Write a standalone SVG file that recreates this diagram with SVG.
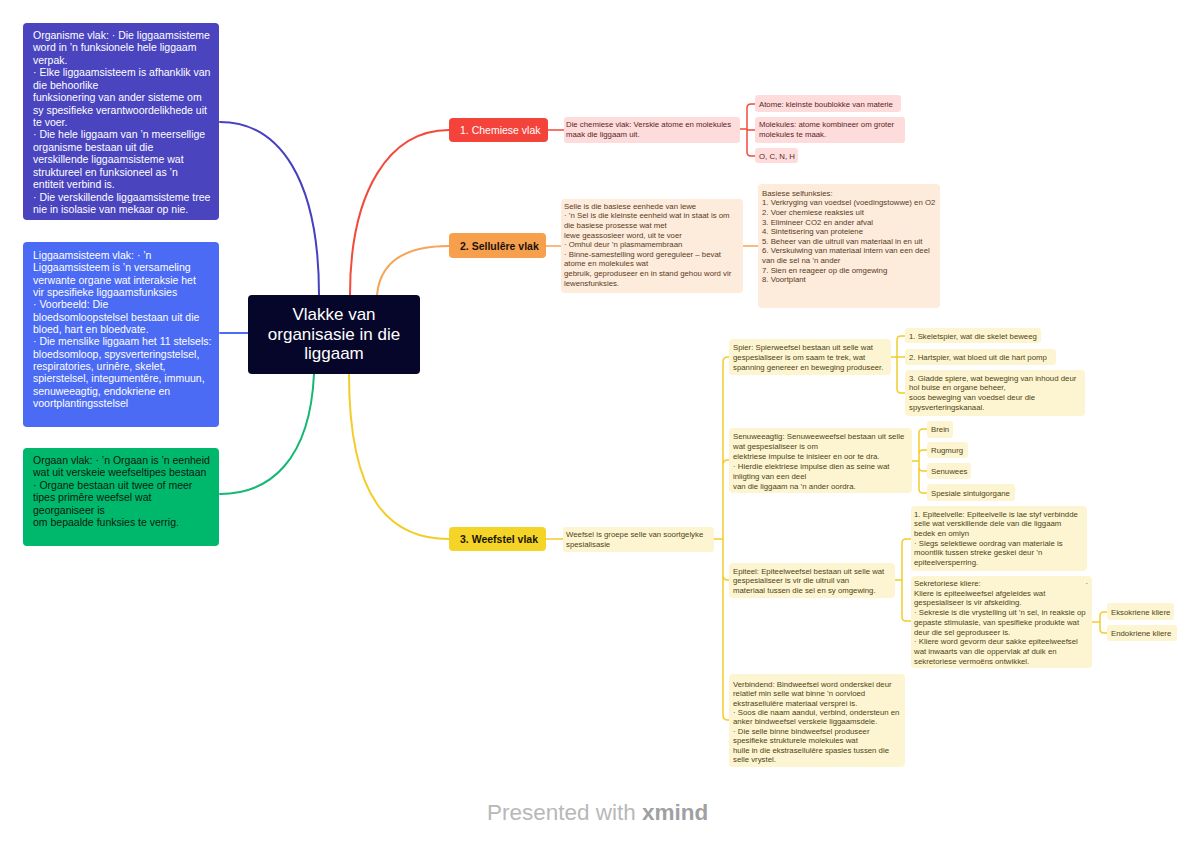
<svg xmlns="http://www.w3.org/2000/svg" width="1200" height="849" viewBox="0 0 1200 849">
<style>
text{font-family:"Liberation Sans",Arial,sans-serif}
.w{font-size:10.5px;fill:#ffffff}
.s{font-size:7.8px}
.tp{font-size:10.5px}
.r{fill:#5a1f1f}.o{fill:#5b3b21}.y{fill:#4d4412}
.rb{fill:#fedcdc}.ob{fill:#fdebdc}.yb{fill:#fdf5d2}
#connectors path{fill:none;stroke-linecap:round}
.cr{stroke:#f24a3c}.co{stroke:#f6a459}.cy{stroke:#f2cd2a}
.m{stroke-width:2}.n{stroke-width:1.5}
</style>
<rect width="1200" height="849" fill="#ffffff"/>
<g id="connectors">
<path class="m" stroke="#4641c0" d="M319,295 C319,180 280,122 220,122"/>
<path class="m" stroke="#4a6cf7" d="M248,333 H220"/>
<path class="m" stroke="#14b872" d="M314,374 C310,460 270,494 220,494"/>
<path class="m cr" d="M350,295 C350,190 390,130 449,130"/>
<path class="m co" d="M377,295 C380,262 405,246 449,246"/>
<path class="m cy" d="M349,374 C349,500 390,539 449,539"/>
<path class="n cr" d="M548,130 H564 M740,129 H747 M747,129 V108 Q747,104 751,104 H755 M747,129 V130 H755 M747,129 V152 Q747,156 751,156 H755"/>
<path class="n co" d="M546,246 H561 M743,246 H758"/>
<path class="n cy" d="M546,539 H563 M714,539 H723 M723,539 V362 Q723,357 728,357 H729 M723,539 V465 Q723,460 728,460 H729 M723,539 V575 Q723,580 728,580 H729 M723,539 V715 Q723,720 728,720 H729"/>
<path class="n cy" d="M891,357 H897 M897,357 V340 Q897,336 901,336 H905 M897,357 H905 M897,357 V389 Q897,393 901,393 H905"/>
<path class="n cy" d="M912,461 H919 M919,461 V433 Q919,429 923,429 H927 M919,461 V454 Q919,450 923,450 H927 M919,461 V467 Q919,471 923,471 H927 M919,461 V489 Q919,493 923,493 H927"/>
<path class="n cy" d="M895,580 H902 M902,580 V543 Q902,539 906,539 H911 M902,580 V617 Q902,621 906,621 H911"/>
<path class="n cy" d="M1092,622 H1100 M1100,622 V616 Q1100,612 1104,612 H1107 M1100,622 V629 Q1100,633 1104,633 H1107"/>
</g>
<g id="central">
<rect x="248" y="295" width="172" height="79" rx="4" fill="#06062a"/>
<text x="334" y="320" font-size="17" fill="#ffffff" text-anchor="middle"><tspan x="334" y="320">Vlakke van</tspan><tspan x="334" y="339.5">organisasie in die</tspan><tspan x="334" y="359">liggaam</tspan></text>
</g>
<g id="organisme">
<rect x="23" y="23" width="196" height="197" rx="4" fill="#4a45bf"/>
<text class="w" x="33" y="39"><tspan x="33" y="39">Organisme vlak: · Die liggaamsisteme</tspan><tspan x="33" dy="12.43">word in ’n funksionele hele liggaam</tspan><tspan x="33" dy="12.43">verpak.</tspan><tspan x="33" dy="12.43">· Elke liggaamsisteem is afhanklik van</tspan><tspan x="33" dy="12.43">die behoorlike</tspan><tspan x="33" dy="12.43">funksionering van ander sisteme om</tspan><tspan x="33" dy="12.43">sy spesifieke verantwoordelikhede uit</tspan><tspan x="33" dy="12.43">te voer.</tspan><tspan x="33" dy="12.43">· Die hele liggaam van ’n meersellige</tspan><tspan x="33" dy="12.43">organisme bestaan uit die</tspan><tspan x="33" dy="12.43">verskillende liggaamsisteme wat</tspan><tspan x="33" dy="12.43">struktureel en funksioneel as ’n</tspan><tspan x="33" dy="12.43">entiteit verbind is.</tspan><tspan x="33" dy="12.43">· Die verskillende liggaamsisteme tree</tspan><tspan x="33" dy="12.43">nie in isolasie van mekaar op nie.</tspan></text>
</g>
<g id="liggaamsisteem">
<rect x="23" y="242" width="196" height="185" rx="4" fill="#4b6bf5"/>
<text class="w" x="33" y="259"><tspan x="33" y="259">Liggaamsisteem vlak: · ’n</tspan><tspan x="33" dy="12.33">Liggaamsisteem is ’n versameling</tspan><tspan x="33" dy="12.33">verwante organe wat interaksie het</tspan><tspan x="33" dy="12.33">vir spesifieke liggaamsfunksies</tspan><tspan x="33" dy="12.33">· Voorbeeld: Die</tspan><tspan x="33" dy="12.33">bloedsomloopstelsel bestaan uit die</tspan><tspan x="33" dy="12.33">bloed, hart en bloedvate.</tspan><tspan x="33" dy="12.33">· Die menslike liggaam het 11 stelsels:</tspan><tspan x="33" dy="12.33">bloedsomloop, spysverteringstelsel,</tspan><tspan x="33" dy="12.33">respiratories, urinêre, skelet,</tspan><tspan x="33" dy="12.33">spierstelsel, integumentêre, immuun,</tspan><tspan x="33" dy="12.33">senuweeagtig, endokriene en</tspan><tspan x="33" dy="12.33">voortplantingsstelsel</tspan></text>
</g>
<g id="orgaan">
<rect x="23" y="448" width="196" height="98" rx="4" fill="#00b86b"/>
<text class="w" x="33" y="464" style="fill:#0a1a10"><tspan x="33" y="464">Orgaan vlak: · ’n Orgaan is ’n eenheid</tspan><tspan x="33" dy="12.4">wat uit verskeie weefseltipes bestaan</tspan><tspan x="33" dy="12.4">· Organe bestaan uit twee of meer</tspan><tspan x="33" dy="12.4">tipes primêre weefsel wat</tspan><tspan x="33" dy="12.4">georganiseer is</tspan><tspan x="33" dy="12.4">om bepaalde funksies te verrig.</tspan></text>
</g>
<g id="chemiese">
<rect x="449" y="118" width="99" height="24" rx="4" fill="#f4433b"/>
<text class="tp" x="460" y="133.5" fill="#ffffff">1. Chemiese vlak</text>
</g>
<g id="chemiese-sub">
<rect class="rb" x="564" y="117" width="176" height="26" rx="3"/>
<text class="s r" x="566" y="126.8"><tspan x="566" y="126.8">Die chemiese vlak: Verskie atome en molekules</tspan><tspan x="566" dy="10">maak die liggaam uit.</tspan></text>
</g>
<g id="atome">
<rect class="rb" x="755" y="95" width="146" height="17" rx="3"/>
<text class="s r" x="759" y="106.8">Atome: kleinste boublokke van materie</text>
</g>
<g id="molekules">
<rect class="rb" x="755" y="117" width="150" height="26" rx="3"/>
<text class="s r" x="759" y="126.8"><tspan x="759" y="126.8">Molekules: atome kombineer om groter</tspan><tspan x="759" dy="10">molekules te maak.</tspan></text>
</g>
<g id="ocnh">
<rect class="rb" x="755" y="148" width="43" height="15" rx="3"/>
<text class="s r" x="759" y="158.8">O, C, N, H</text>
</g>
<g id="sellulere">
<rect x="449" y="233" width="97" height="25" rx="4" fill="#f6a04d"/>
<text class="tp" x="460" y="249.5" fill="#1a1208" font-weight="bold">2. Sellulêre vlak</text>
</g>
<g id="sellulere-sub">
<rect class="ob" x="561" y="199" width="182" height="94" rx="4"/>
<text class="s o" x="564" y="208.8"><tspan x="564" y="208.8">Selle is die basiese eenhede van lewe</tspan><tspan x="564" dy="9.6">· ’n Sel is die kleinste eenheid wat in staat is om</tspan><tspan x="564" dy="9.6">die basiese prosesse wat met</tspan><tspan x="564" dy="9.6">lewe geassosieer word, uit te voer</tspan><tspan x="564" dy="9.6">· Omhul deur ’n plasmamembraan</tspan><tspan x="564" dy="9.6">· Binne-samestelling word gereguleer – bevat</tspan><tspan x="564" dy="9.6">atome en molekules wat</tspan><tspan x="564" dy="9.6">gebruik, geproduseer en in stand gehou word vir</tspan><tspan x="564" dy="9.6">lewensfunksies.</tspan></text>
</g>
<g id="selfunksies">
<rect class="ob" x="758" y="184" width="182" height="124" rx="4"/>
<text class="s o" x="762" y="195.8"><tspan x="762" y="195.8">Basiese selfunksies:</tspan><tspan x="762" dy="9.6">1. Verkryging van voedsel (voedingstowwe) en O2</tspan><tspan x="762" dy="9.6">2. Voer chemiese reaksies uit</tspan><tspan x="762" dy="9.6">3. Elimineer CO2 en ander afval</tspan><tspan x="762" dy="9.6">4. Sintetisering van proteiene</tspan><tspan x="762" dy="9.6">5. Beheer van die uitruil van materiaal in en uit</tspan><tspan x="762" dy="9.6">6. Verskuiwing van materiaal intern van een deel</tspan><tspan x="762" dy="9.6">van die sel na ’n ander</tspan><tspan x="762" dy="9.6">7. Sien en reageer op die omgewing</tspan><tspan x="762" dy="9.6">8. Voortplant</tspan></text>
</g>
<g id="weefstel">
<rect x="449" y="527" width="97" height="24" rx="4" fill="#f4d427"/>
<text class="tp" x="460" y="542.5" fill="#1a1605" font-weight="bold">3. Weefstel vlak</text>
</g>
<g id="weefsel">
<rect class="yb" x="563" y="527" width="151" height="25" rx="3"/>
<text class="s y" x="566" y="537.3"><tspan x="566" y="537.3">Weefsel is groepe selle van soortgelyke</tspan><tspan x="566" dy="10">spesialisasie</tspan></text>
</g>
<g id="spier">
<rect class="yb" x="729" y="339" width="162" height="36" rx="4"/>
<text class="s y" x="733" y="349.8"><tspan x="733" y="349.8">Spier: Spierweefsel bestaan uit selle wat</tspan><tspan x="733" dy="10">gespesialiseer is om saam te trek, wat</tspan><tspan x="733" dy="10">spanning genereer en beweging produseer.</tspan></text>
</g>
<g id="skeletspier">
<rect class="yb" x="905" y="328" width="136" height="15" rx="3"/>
<text class="s y" x="909" y="338.8">1. Skeletspier, wat die skelet beweeg</text>
</g>
<g id="hartspier">
<rect class="yb" x="905" y="349" width="151" height="16" rx="3"/>
<text class="s y" x="909" y="359.8">2. Hartspier, wat bloed uit die hart pomp</text>
</g>
<g id="gladde">
<rect class="yb" x="905" y="370" width="180" height="46" rx="4"/>
<text class="s y" x="909" y="380.8"><tspan x="909" y="380.8">3. Gladde spiere, wat beweging van inhoud deur</tspan><tspan x="909" dy="9.6">hol buise en organe beheer,</tspan><tspan x="909" dy="9.6">soos beweging van voedsel deur die</tspan><tspan x="909" dy="9.6">spysverteringskanaal.</tspan></text>
</g>
<g id="senuwee">
<rect class="yb" x="729" y="428" width="183" height="65" rx="4"/>
<text class="s y" x="733" y="438.8"><tspan x="733" y="438.8">Senuweeagtig: Senuweeweefsel bestaan uit selle</tspan><tspan x="733" dy="10">wat gespesialiseer is om</tspan><tspan x="733" dy="10">elektriese impulse te inisieer en oor te dra.</tspan><tspan x="733" dy="10">· Hierdie elektriese impulse dien as seine wat</tspan><tspan x="733" dy="10">inligting van een deel</tspan><tspan x="733" dy="10">van die liggaam na ’n ander oordra.</tspan></text>
</g>
<g id="brein">
<rect class="yb" x="927" y="421" width="26" height="17" rx="3"/>
<text class="s y" x="931" y="431.8">Brein</text>
</g>
<g id="rugmurg">
<rect class="yb" x="927" y="442" width="41" height="16" rx="3"/>
<text class="s y" x="931" y="452.8">Rugmurg</text>
</g>
<g id="senuwees">
<rect class="yb" x="927" y="463" width="44" height="16" rx="3"/>
<text class="s y" x="931" y="473.8">Senuwees</text>
</g>
<g id="sintuig">
<rect class="yb" x="927" y="484" width="88" height="17" rx="3"/>
<text class="s y" x="931" y="495.8">Spesiale sintuigorgane</text>
</g>
<g id="epiteel">
<rect class="yb" x="729" y="563" width="166" height="35" rx="4"/>
<text class="s y" x="733" y="573.8"><tspan x="733" y="573.8">Epiteel: Epiteelweefsel bestaan uit selle wat</tspan><tspan x="733" dy="9.6">gespesialiseer is vir die uitruil van</tspan><tspan x="733" dy="9.6">materiaal tussen die sel en sy omgewing.</tspan></text>
</g>
<g id="epiteelvelle">
<rect class="yb" x="911" y="506" width="176" height="65" rx="4"/>
<text class="s y" x="914" y="516.8"><tspan x="914" y="516.8">1. Epiteelvelle: Epiteelvelle is lae styf verbindde</tspan><tspan x="914" dy="9.6">selle wat verskillende dele van die liggaam</tspan><tspan x="914" dy="9.6">bedek en omlyn</tspan><tspan x="914" dy="9.6">· Slegs selektiewe oordrag van materiale is</tspan><tspan x="914" dy="9.6">moontlik tussen streke geskei deur ’n</tspan><tspan x="914" dy="9.6">epiteelversperring.</tspan></text>
</g>
<g id="sekretoriese">
<rect class="yb" x="911" y="576" width="181" height="92" rx="4"/>
<text class="s y" x="914" y="585.8"><tspan x="914" y="585.8">Sekretoriese kliere:</tspan><tspan x="914" dy="9.75">Kliere is epiteelweefsel afgeleides wat</tspan><tspan x="914" dy="9.75">gespesialiseer is vir afskeiding.</tspan><tspan x="914" dy="9.75">· Sekresie is die vrystelling uit ’n sel, in reaksie op</tspan><tspan x="914" dy="9.75">gepaste stimulasie, van spesifieke produkte wat</tspan><tspan x="914" dy="9.75">deur die sel geproduseer is.</tspan><tspan x="914" dy="9.75">· Kliere word gevorm deur sakke epiteelweefsel</tspan><tspan x="914" dy="9.75">wat inwaarts van die oppervlak af duik en</tspan><tspan x="914" dy="9.75">sekretoriese vermoëns ontwikkel.</tspan></text>
<text class="s y" x="1085.5" y="585.8">·</text>
</g>
<g id="eksokriene">
<rect class="yb" x="1107" y="603" width="67" height="17" rx="3"/>
<text class="s y" x="1111" y="614.8">Eksokriene kliere</text>
</g>
<g id="endokriene">
<rect class="yb" x="1107" y="625" width="70" height="16" rx="3"/>
<text class="s y" x="1111" y="635.8">Endokriene kliere</text>
</g>
<g id="verbindend">
<rect class="yb" x="729" y="674" width="176" height="93" rx="4"/>
<text class="s y" x="733" y="686.8"><tspan x="733" y="686.8">Verbindend: Bindweefsel word onderskei deur</tspan><tspan x="733" dy="9.4">relatief min selle wat binne ’n oorvloed</tspan><tspan x="733" dy="9.4">ekstrasellulêre materiaal versprei is.</tspan><tspan x="733" dy="9.4">· Soos die naam aandui, verbind, ondersteun en</tspan><tspan x="733" dy="9.4">anker bindweefsel verskeie liggaamsdele.</tspan><tspan x="733" dy="9.4">· Die selle binne bindweefsel produseer</tspan><tspan x="733" dy="9.4">spesifieke strukturele molekules wat</tspan><tspan x="733" dy="9.4">hulle in die ekstrasellulêre spasies tussen die</tspan><tspan x="733" dy="9.4">selle vrystel.</tspan></text>
</g>
<g id="footer">
<text x="487" y="820" font-size="22.5" fill="#b8b8b8">Presented with <tspan font-weight="bold" fill="#a0a0a0">xmind</tspan></text>
</g>
</svg>
